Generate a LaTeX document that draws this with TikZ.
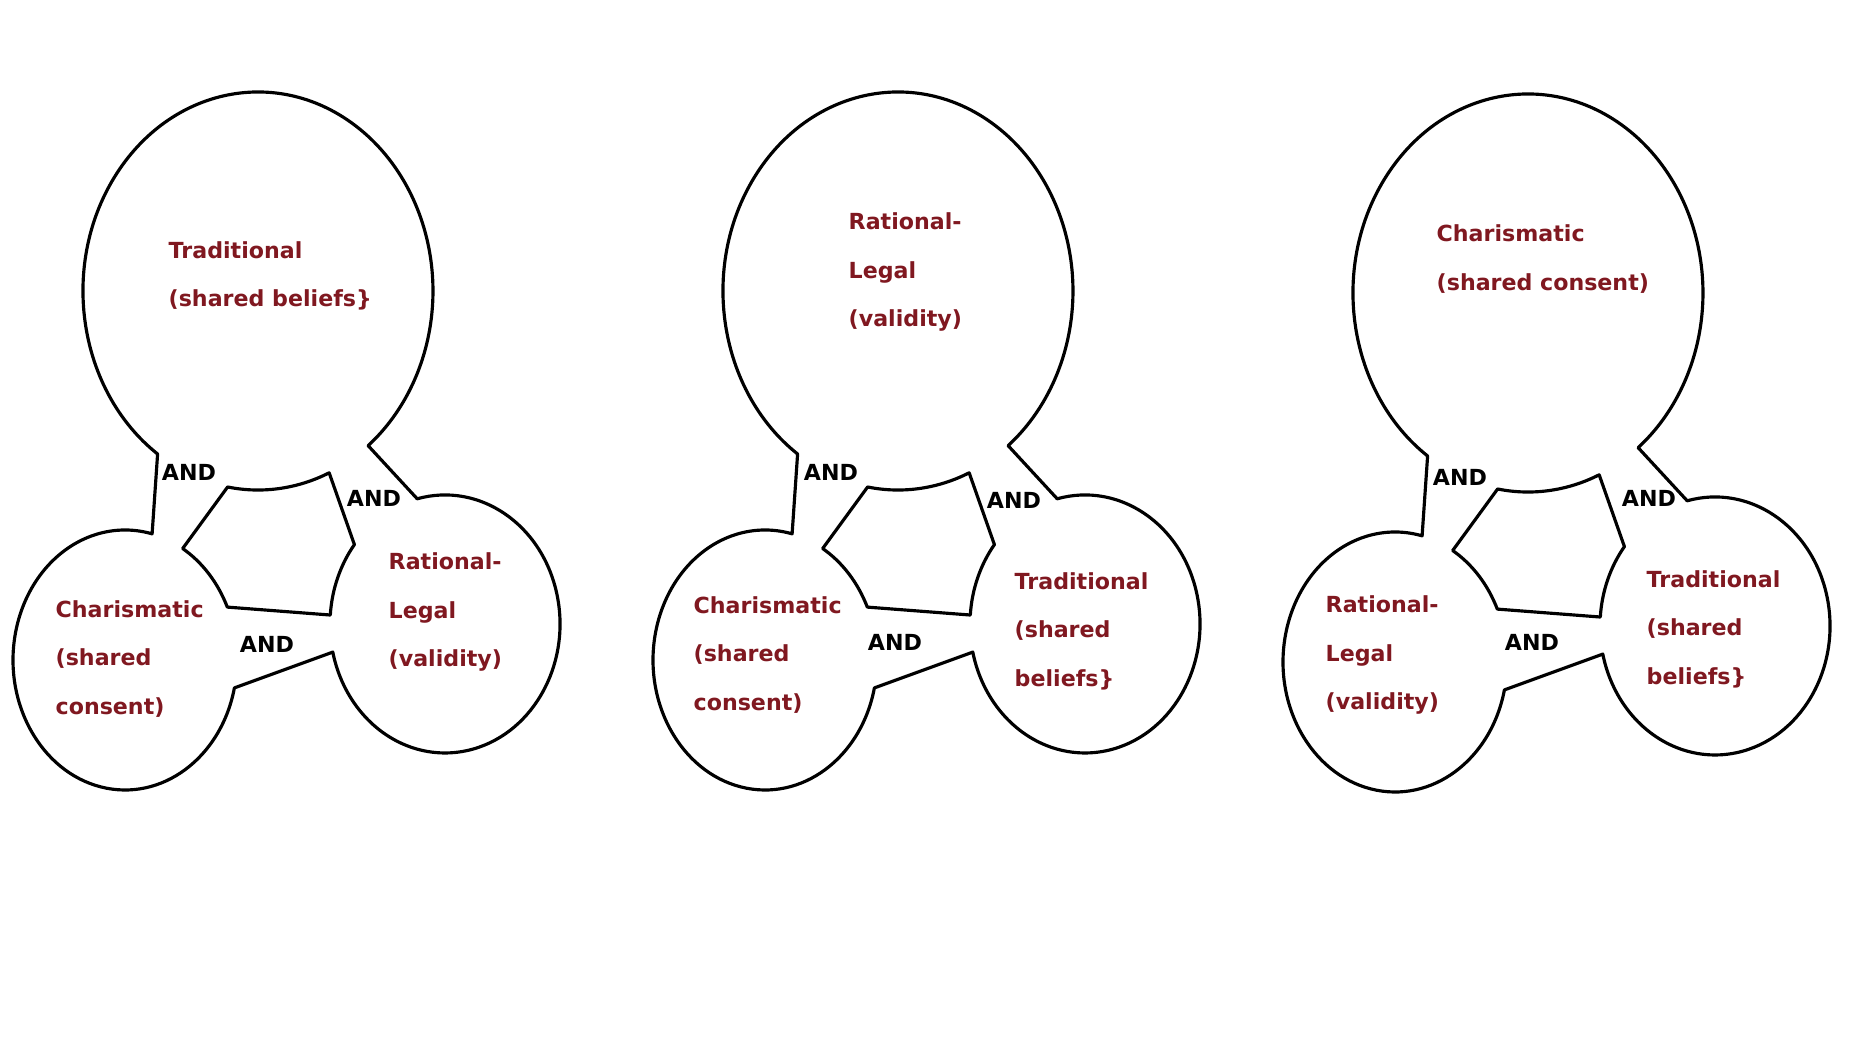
\documentclass[tikz,border=0pt]{standalone}
\usepackage{fontspec}
\setmainfont{DejaVu Sans}
\usetikzlibrary{positioning}

\definecolor{wine}{RGB}{128,24,32}

% one outline: big blob on top, two small ones below, hole in the middle
\newcommand{\drawtriad}{%
  \draw[rim] (1.576,-4.540)
      arc[start angle=235, end angle=-51, x radius=1.75, y radius=1.99]
      -- (4.172,-4.988)
      arc[start angle=104, end angle=-167.4, x radius=1.15, y radius=1.29]
      -- (2.344,-6.879)
      arc[start angle=-12.4, end angle=-284, x radius=1.12, y radius=1.30]
      -- cycle;
  \draw[rim] (2.276,-4.870)
      arc[start angle=260, end angle=294, x radius=1.75, y radius=1.99]
      -- (3.544,-5.446)
      arc[start angle=142, end angle=176, x radius=1.15, y radius=1.29]
      -- (2.273,-6.071)
      arc[start angle=24, end angle=59, x radius=1.12, y radius=1.30]
      -- cycle;
}

\begin{document}
\begin{tikzpicture}[scale=1.0,
    rim/.style={line width=0.9pt, line join=round},
    kind/.style={font=\fontsize{6.3}{13.8}\selectfont\bfseries, text=wine,
      align=left, anchor=west, inner sep=0pt},
    andlbl/.style={font=\fontsize{6.3}{8}\selectfont\bfseries, inner sep=0pt}]
    \useasboundingbox[fill=white] (0,0) rectangle (18.64,-10.57);

    % first
    \drawtriad
    \node[kind] (t1) at (1.68,-2.76) {Traditional\\(shared beliefs\}};
    \node[kind] (c1) at (0.55,-6.59) {Charismatic\\(shared\\consent)};
    \node[kind] (r1) at (3.88,-6.12) {Rational-\\Legal\\(validity)};
    \node[andlbl] (a1l) at (1.89,-4.72) {AND};
    \node[andlbl] (a1r) at (3.74,-4.98) {AND};
    \node[andlbl] (a1b) at (2.67,-6.44) {AND};

    % second
    \begin{scope}[shift={(6.40,0)}]
      \drawtriad
    \end{scope}
    \node[kind] (r2) at (8.48,-2.72) {Rational-\\Legal\\(validity)};
    \node[kind] (c2) at (6.93,-6.55) {Charismatic\\(shared\\consent)};
    \node[kind] (t2) at (10.14,-6.31) {Traditional\\(shared\\beliefs\}};
    \node[andlbl] (a2l) at (8.31,-4.72) {AND};
    \node[andlbl] (a2r) at (10.14,-5.00) {AND};
    \node[andlbl] (a2b) at (8.95,-6.42) {AND};

    % third
    \begin{scope}[shift={(12.70,-0.02)}]
      \drawtriad
    \end{scope}
    \node[kind] (c3) at (14.36,-2.59) {Charismatic\\(shared consent)};
    \node[kind] (r3) at (13.25,-6.55) {Rational-\\Legal\\(validity)};
    \node[kind] (t3) at (16.46,-6.29) {Traditional\\(shared\\beliefs\}};
    \node[andlbl] (a3l) at (14.60,-4.77) {AND};
    \node[andlbl] (a3r) at (16.49,-4.98) {AND};
    \node[andlbl] (a3b) at (15.32,-6.42) {AND};
\end{tikzpicture}
\end{document}
